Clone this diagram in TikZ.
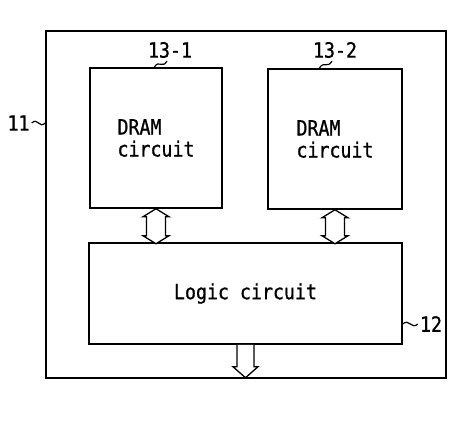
\documentclass[tikz,border=0pt]{standalone}
\usepackage{fontspec}
\newfontfamily\pf{DejaVu Sans Mono}[FakeStretch=0.87,FakeBold=0.8]
\usetikzlibrary{calc}
\begin{document}
\begin{tikzpicture}[x=1pt,y=-1pt,
  box/.style={draw, line width=1.5pt, inner sep=0pt},
  lbl/.style={font=\pf\fontsize{21}{22}\selectfont, inner sep=0pt},
  arr/.style={draw, line width=1.3pt, fill=white, line join=miter},
  lead/.style={line width=1.2pt}]
\useasboundingbox (0,0) rectangle (474,425);
\node[box, minimum width=400pt, minimum height=347pt] (chip) at (246,204.5) {};
\node[box, lbl, align=left, minimum width=132pt, minimum height=140pt] (d1) at (156,138) {DRAM\\circuit};
\node[box, lbl, align=left, minimum width=134pt, minimum height=140pt] (d2) at (335,139) {DRAM\\circuit};
\node[box, lbl, minimum width=313pt, minimum height=101pt] (logic) at (245.5,293.5) {Logic circuit};
% double arrows
\draw[arr] (d1.south) -- ++(13,8) -- ++(-3.5,0) -- ++(0,19) -- ++(3.5,0) -- ++(-13,8) -- ++(-13,-8) -- ++(3.5,0) -- ++(0,-19) -- ++(-3.5,0) -- cycle;
\draw[arr] (d2.south) -- ++(13,8) -- ++(-3.5,0) -- ++(0,18) -- ++(3.5,0) -- ++(-13,8) -- ++(-13,-8) -- ++(3.5,0) -- ++(0,-18) -- ++(-3.5,0) -- cycle;
% output arrow
\draw[arr] ($(logic.south)+(-8.5,0)$) -- ++(0,22) -- ++(-4,0) -- ++(12.5,11) -- ++(12.5,-11) -- ++(-4,0) -- ++(0,-22);
% labels
\node[lbl] (n131) at (170,50) {13-1};
\node[lbl] (n132) at (335,50) {13-2};
\node[lbl] (n11) at (18.5,123) {11};
\node[lbl] (n12) at (431,324) {12};
\coordinate (c1) at ($(d1.north west)+(65,0)$);
\coordinate (c2) at ($(d2.north west)+(52,0)$);
\coordinate (t11) at (chip.west |- n11);
\coordinate (t12) at (logic.east |- n12);
\draw[lead] (c1) .. controls +(5,-8) and +(-5,8) .. ($(n131.south)+(-3,3)$);
\draw[lead] (c2) .. controls +(5,-8) and +(-5,8) .. ($(n132.south)+(-3,3)$);
\draw[lead] ($(n11.east)+(2,0)$) .. controls +(6,-6) and +(-6,6) .. (t11);
\draw[lead] (t12) .. controls +(6,-6) and +(-6,6) .. ($(n12.west)+(-2,0)$);
\end{tikzpicture}
\end{document}
